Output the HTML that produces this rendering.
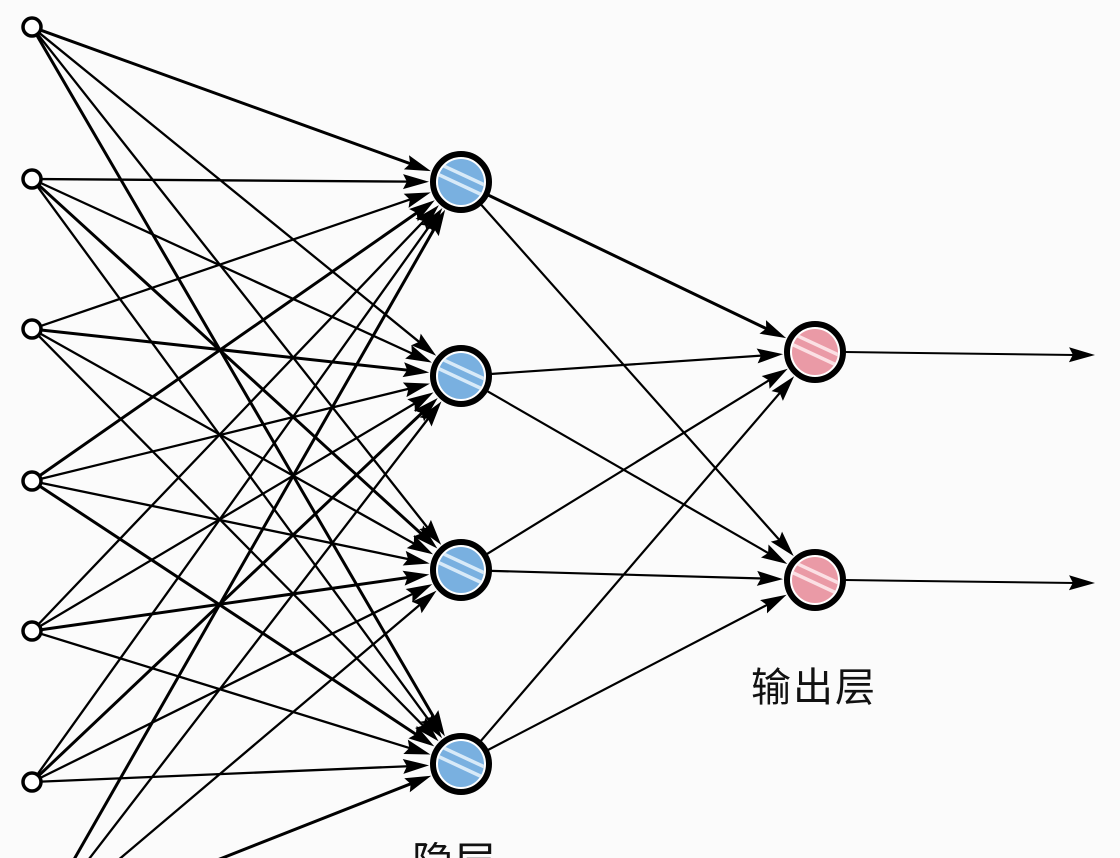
<!DOCTYPE html>
<html><head><meta charset="utf-8"><style>
html,body{margin:0;padding:0;background:#fbfbfb;width:1120px;height:858px;overflow:hidden}
#w{position:relative;width:1120px;height:858px;overflow:hidden}
svg{position:absolute;left:0;top:0}
.t{position:absolute;font-family:"Liberation Sans","Noto Sans CJK SC",sans-serif;color:#111;line-height:1;white-space:nowrap}
</style></head><body><div id="w">
<svg id="s" width="1120" height="858" viewBox="0 0 1120 858">
<defs>
<clipPath id="cb"><circle cx="0" cy="0" r="23"/></clipPath>
</defs>
<g id="g"></g>
</svg>
<div class="t" style="left:751px;top:668px;font-size:40px;letter-spacing:2px">输出层</div>
<div class="t" style="left:412px;top:842px;height:16px;overflow:hidden;font-size:42px">隐层</div>
</div>
<script>
var ns="http://www.w3.org/2000/svg",g=document.getElementById('g');
function el(n,a,p){var e=document.createElementNS(ns,n);for(var k in a)e.setAttribute(k,a[k]);(p||g).appendChild(e);return e}
var inp=[27,179,329,481,631,782,933].map(function(y){return[32,y]});
var hid=[182,376,570,764].map(function(y){return[461,y]});
var out=[352,580].map(function(y){return[815,y]});
function arrow(tx,ty,ux,uy,L,W){var bx=tx-ux*L,by=ty-uy*L,nx=-uy,ny=ux;
 el('polygon',{points:tx+','+ty+' '+(bx+nx*W/2)+','+(by+ny*W/2)+' '+(tx-ux*L*0.85)+','+(ty-uy*L*0.85)+' '+(bx-nx*W/2)+','+(by-ny*W/2),fill:'#000'})}
function line(p,q,r,w){var dx=q[0]-p[0],dy=q[1]-p[1],d=Math.hypot(dx,dy),ux=dx/d,uy=dy/d;
 var tx=q[0]-ux*r,ty=q[1]-uy*r;
 el('line',{x1:p[0]+ux*9,y1:p[1]+uy*9,x2:tx-ux*18,y2:ty-uy*18,stroke:'#000','stroke-width':w});
 arrow(tx,ty,ux,uy,26,15);}
inp.forEach(function(p,i){hid.forEach(function(q,j){line(p,q,32,(i+j)%3==0?3:2.3)})});
hid.forEach(function(p,i){out.forEach(function(q,j){line(p,q,32,(i==0&&j==0)?3:2.2)})});
out.forEach(function(p){var y2=p[1]+3;el('line',{x1:p[0]+30,y1:p[1],x2:1075,y2:y2,stroke:'#000','stroke-width':2});
 var dx=1095-p[0],dy=3,d=Math.hypot(dx,dy);arrow(1095,y2,dx/d,dy/d,26,15)});
inp.forEach(function(p){el('circle',{cx:p[0],cy:p[1],r:9,fill:'#fff',stroke:'#000','stroke-width':3.5})});
function node(c,fill,stripe){
 el('circle',{cx:c[0],cy:c[1],r:28,fill:'#fff',stroke:'#000','stroke-width':6});
 el('circle',{cx:c[0],cy:c[1],r:23,fill:fill});
 var gg=el('g',{transform:'translate('+c[0]+','+c[1]+') rotate(25)'});
 [-9,1].forEach(function(o){el('rect',{x:-24,y:o,width:48,height:3.5,fill:stripe,'clip-path':'url(#cb)'},gg)});
}
hid.forEach(function(c){node(c,'#79b0e0','#d8eaf8')});
out.forEach(function(c){node(c,'#ea9aa6','#fbe0e4')});
</script>
</body></html>
